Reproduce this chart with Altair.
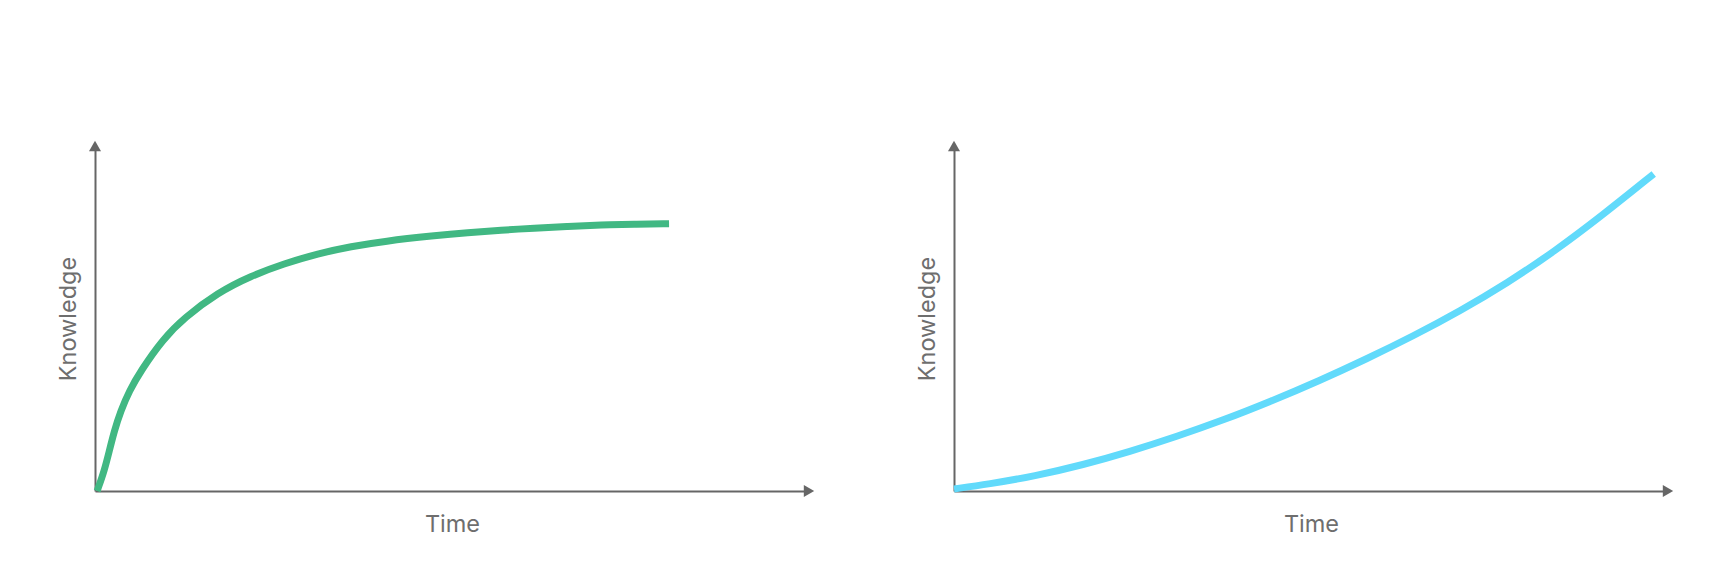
import altair as alt
import pandas as pd


GREEN = "#41B883"
BLUE = "#61DAFB"
AXIS_GREY = "#666666"
TEXT_GREY = "#6E6E6E"
FONT = "Inter"

# left panel: steep start, then levels off
green_time = [0.3, 1.3, 2.0, 2.7, 3.6, 4.8, 6.4, 9.5, 12.5, 17.2, 21.8, 26.5, 31.2, 35.9,
              40.5, 47.5, 52.2, 56.9, 61.5, 66.2, 70.9, 75.5, 80.4]
green_knowledge = [0.0, 5.8, 11.6, 17.4, 23.2, 29.0, 34.8, 44.0, 50.2, 57.5, 62.3, 65.9, 68.8, 70.9,
                   72.4, 74.0, 74.9, 75.6, 76.2, 76.7, 77.1, 77.35, 77.45]

# right panel: slow start, keeps accelerating
blue_time = [0.0, 4.8, 11.3, 18.1, 24.6, 31.2, 37.8, 44.4, 51.1, 57.7, 64.3, 70.9, 77.5, 84.0, 90.8, 98.0]
blue_knowledge = [0.6, 2.0, 4.3, 7.6, 11.4, 15.8, 20.6, 26.0, 31.9, 38.2, 44.9, 52.2, 60.3, 69.3, 79.9, 91.9]

# arrow heads sit at the ends of both axes
arrow_time = [0, 100]
arrow_knowledge = [100, 0]
arrow_shape = ["triangle-up", "triangle-right"]


def panel(times: list[float], knowledge: list[float], color: str) -> alt.LayerChart:
    curve = pd.DataFrame({"time": times, "knowledge": knowledge})
    arrows = pd.DataFrame({"time": arrow_time, "knowledge": arrow_knowledge, "shape": arrow_shape})

    x = alt.X(
        "time:Q",
        scale=alt.Scale(domain=[0, 100], nice=False, zero=False),
        axis=alt.Axis(title="Time", titlePadding=21),
    )
    y = alt.Y(
        "knowledge:Q",
        scale=alt.Scale(domain=[0, 100], nice=False, zero=False),
        axis=alt.Axis(title="Knowledge", titlePadding=15),
    )

    # basis smooths out the small reading errors in the hand-read points
    line = (
        alt.Chart(curve)
        .mark_line(color=color, strokeWidth=7, interpolate="basis", strokeCap="butt")
        .encode(x=x, y=y)
    )
    heads = (
        alt.Chart(arrows)
        .mark_point(filled=True, color=AXIS_GREY, size=144, opacity=1)
        .encode(x="time:Q", y="knowledge:Q", shape=alt.Shape("shape:N", scale=None))
    )
    return alt.layer(line, heads).properties(width=714, height=345)


chart = (
    alt.hconcat(panel(green_time, green_knowledge, GREEN), panel(blue_time, blue_knowledge, BLUE), spacing=100)
    .properties(padding={"left": 48, "top": 132, "right": 5, "bottom": 5})
    .configure_view(strokeWidth=0)
    .configure_axis(
        labels=False,
        ticks=False,
        grid=False,
        domainColor=AXIS_GREY,
        domainWidth=2,
        titleFont=FONT,
        titleFontSize=23.5,
        titleFontWeight="normal",
        titleColor=TEXT_GREY,
    )
)

chart.save("out.html", embed_options={"renderer": "svg", "actions": False})
